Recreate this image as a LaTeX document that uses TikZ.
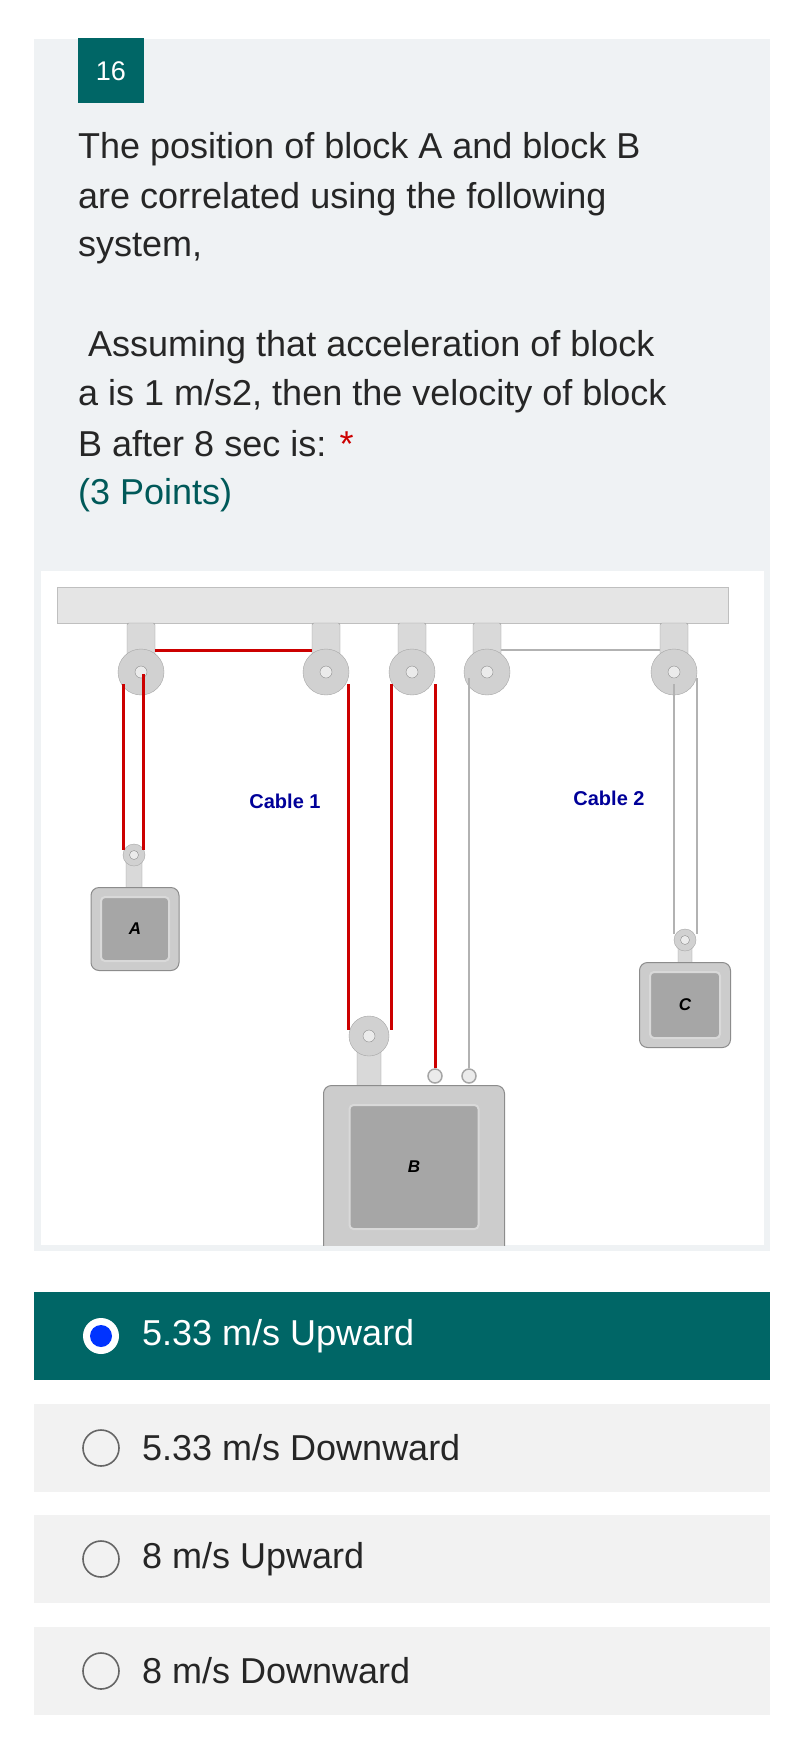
\documentclass[tikz,border=0pt]{standalone}
\usepackage{fontspec}
\setmainfont{Liberation Sans}
\begin{document}
\begin{tikzpicture}[x=1pt,y=-1pt,
  txt/.style={anchor=west,font=\fontsize{36}{36}\selectfont,text=black!85,inner sep=0},
  opt/.style={fill=black!5,draw=none},
  radio/.style={circle,draw=black!60,line width=1.6pt,minimum size=36pt,inner sep=0},
  pul/.style={circle,fill=black!18,draw=black!35,minimum size=46pt,inner sep=0},
  hub/.style={circle,fill=black!8,draw=black!45,minimum size=12pt,inner sep=0},
  brk/.style={fill=black!15,draw=black!40,rounded corners=2pt},
  red/.style={draw=red!80!black,line width=3pt},
  gry/.style={draw=black!30,line width=2pt},
  blk/.style={fill=black!20,draw=black!45,rounded corners=8pt,line width=1pt},
  blki/.style={fill=black!35,draw=black!15,rounded corners=4pt,line width=2pt},
  lbl/.style={font=\itshape\bfseries\fontsize{17}{17}\selectfont\rmfamily},
  cab/.style={font=\bfseries\fontsize{20}{20}\selectfont,text=blue!60!black}]
\useasboundingbox (0,0) rectangle (810,1739);
\fill[white] (0,0) rectangle (810,1739);
\fill[cyan!30!black!7] (34,39) rectangle (770,1251);
\fill[white] (41,571) rectangle (764,1245);
\node[fill=teal!80!black,minimum width=66pt,minimum height=65pt,inner sep=0,text=white,font=\fontsize{27}{27}\selectfont] (badge) at (111,71) {16};
\node[txt] (t1) at (78,149) {The position of block A and block B};
\node[txt] (t2) at (78,199) {are correlated using the following};
\node[txt] (t3) at (78,249) {system,};
\node[txt] (t4) at (88,347) {Assuming that acceleration of block};
\node[txt] (t5) at (78,396) {a is 1 m/s2, then the velocity of block};
\node[txt] (t6) at (78,444) {B after 8 sec is: \textcolor{red!80!black}{*}};
\node[txt,text=teal!70!black] (t7) at (78,495) {(3 Points)};
% diagram
\begin{scope}
\clip (41,571) rectangle (764,1245);
\fill[black!10,draw=black!25] (57,587) rectangle (728,623);
\foreach \n/\x in {p1/141,p2/326,p3/412,p4/487,p5/674}{
  \fill[brk] (\x-14,623) rectangle (\x+14,672);
}
\draw[red] (155,650) -- (312,650);
\draw[gry] (501,650) -- (660,650);
\foreach \n/\x in {p1/141,p2/326,p3/412,p4/487,p5/674}{
  \node[pul] (\n) at (\x,672) {};
  \node[hub] at (\x,672) {};
}
% block A
\fill[brk] (126,855) rectangle (142,890);
\node[blk,minimum width=88pt,minimum height=83pt] (A) at (135,929) {};
\node[blki,minimum width=68pt,minimum height=64pt,lbl] at (135,929) {A};
\node[pul,minimum size=22pt] (pa) at (134,855) {};
\node[hub,minimum size=9pt] at (134,855) {};
\draw[red] (123,684) -- (123,850);
\draw[red] (143,674) -- (143,850);
% block C
\fill[brk] (678,940) rectangle (692,965);
\node[blk,minimum width=91pt,minimum height=85pt] (C) at (685,1005) {};
\node[blki,minimum width=70pt,minimum height=66pt,lbl] at (685,1005) {C};
\node[pul,minimum size=22pt] (pc) at (685,940) {};
\node[hub,minimum size=9pt] at (685,940) {};
\draw[gry] (674,684) -- (674,934);
\draw[gry] (697,678) -- (697,934);
% block B
\fill[brk] (357,1036) rectangle (381,1090);
\node[blk,minimum width=181pt,minimum height=178pt,anchor=north] (B) at (414,1085) {};
\node[blki,minimum width=129pt,minimum height=124pt,lbl] at (414,1167) {B};
\node[pul,minimum size=40pt] (pb) at (369,1036) {};
\node[hub] at (369,1036) {};
\draw[red] (348,684) -- (348,1030);
\draw[red] (391,684) -- (391,1030);
\draw[red] (435,684) -- (435,1068);
\draw[gry] (469,678) -- (469,1068);
\draw[black!35,line width=1.5pt,fill=black!8] (435,1076) circle (7pt);
\draw[black!35,line width=1.5pt,fill=black!8] (469,1076) circle (7pt);
\end{scope}
\node[cab] (c1) at (285,801) {Cable 1};
\node[cab] (c2) at (609,798) {Cable 2};
% options
\fill[teal!80!black] (34,1292) rectangle (770,1380);
\node[circle,fill=white,minimum size=36pt,inner sep=0] (r1) at (101,1336) {};
\node[circle,fill=blue!80!cyan,minimum size=22pt,inner sep=0] at (101,1336) {};
\node[txt,text=white] (o1) at (142,1336) {5.33 m/s Upward};
\fill[opt] (34,1404) rectangle (770,1492);
\node[radio] (r2) at (101,1448) {};
\node[txt] (o2) at (142,1448) {5.33 m/s Downward};
\fill[opt] (34,1515) rectangle (770,1603);
\node[radio] (r3) at (101,1559) {};
\node[txt] (o3) at (142,1559) {8 m/s Upward};
\fill[opt] (34,1627) rectangle (770,1715);
\node[radio] (r4) at (101,1671) {};
\node[txt] (o4) at (142,1671) {8 m/s Downward};
\end{tikzpicture}
\end{document}
